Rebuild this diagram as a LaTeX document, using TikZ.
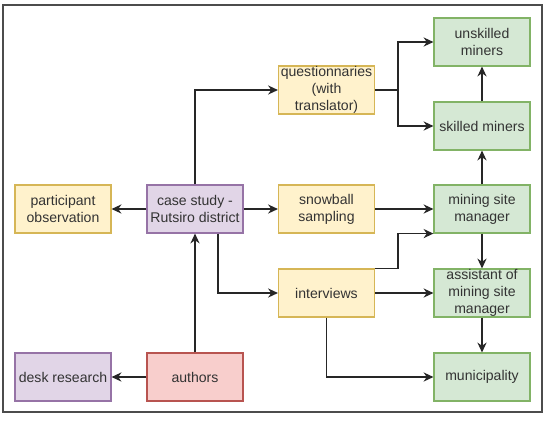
\documentclass[tikz,border=0pt]{standalone}
\usepackage{fontspec}
\setmainfont{Liberation Sans}
\usepackage{xcolor}
\usetikzlibrary{arrows.meta}

\definecolor{yfill}{HTML}{FFF2CC}
\definecolor{ydraw}{HTML}{D6B656}
\definecolor{pfill}{HTML}{E1D5E7}
\definecolor{pdraw}{HTML}{9673A6}
\definecolor{rfill}{HTML}{F8CECC}
\definecolor{rdraw}{HTML}{B85450}
\definecolor{gfill}{HTML}{D5E8D4}
\definecolor{gdraw}{HTML}{82B366}

\tikzset{
  box/.style={draw, line width=0.8pt, minimum width=2.4cm, minimum height=1.2cm,
    inner sep=0pt, align=center, font=\fontsize{10}{12}\selectfont, text=black!80},
  yelbox/.style={box, fill=yfill, draw=ydraw},
  purbox/.style={box, fill=pfill, draw=pdraw},
  redbox/.style={box, fill=rfill, draw=rdraw},
  grnbox/.style={box, fill=gfill, draw=gdraw},
  arr/.style={-{Stealth[length=7pt,width=6.5pt]}, line width=1pt, black!85},
}

\begin{document}
\begin{tikzpicture}[x=0.025cm, y=-0.025cm]
  \useasboundingbox[fill=white] (0,0) rectangle (550,423);
  \draw[color=black!70, line width=1pt] (3,5) rectangle (542,412);

  % left column
  \node[yelbox] (obs) at (63,209) {participant\\observation};
  \node[purbox] (desk) at (63,377) {desk research};
  \node[purbox] (case) at (195,209) {case study -\\Rutsiro district};
  \node[redbox] (authors) at (195,377) {authors};

  % methods
  \node[yelbox] (quest) at (326.5,90) {questionnaries\\(with\\translator)};
  \node[yelbox] (snow) at (326.5,209) {snowball\\sampling};
  \node[yelbox] (interv) at (326.5,293) {interviews};

  % respondents
  \node[grnbox] (unsk) at (482,42) {unskilled\\miners};
  \node[grnbox] (skill) at (482,126) {skilled miners};
  \node[grnbox] (mgr) at (482,209) {mining site\\manager};
  \node[grnbox] (asst) at (482,293) {assistant of\\mining site\\manager};
  \node[grnbox] (muni) at (482,377) {municipality};

  \coordinate (qsplit) at (398,90);

  \draw[arr] (authors) -- (case);
  \draw[arr] (authors) -- (desk);
  \draw[arr] (case) -- (obs);
  \draw[arr] (case) -- (snow);
  \draw[arr] (case.north) |- (quest.west);
  \draw[arr] ([xshift=0.575cm]case.south) |- (interv.west);

  \draw[arr] (quest) -- (qsplit) |- (unsk.west);
  \draw[arr] (qsplit) |- (skill.west);
  \draw[arr] (snow) -- (mgr);
  \draw[arr] (interv.north east) -- ++(23,0) |- (mgr.south west);
  \draw[arr] (interv) -- (asst);
  \draw[arr] (interv.south) |- (muni.west);

  \draw[arr] (mgr) -- (skill);
  \draw[arr] (skill) -- (unsk);
  \draw[arr] (mgr) -- (asst);
  \draw[arr] (asst) -- (muni);
\end{tikzpicture}
\end{document}
